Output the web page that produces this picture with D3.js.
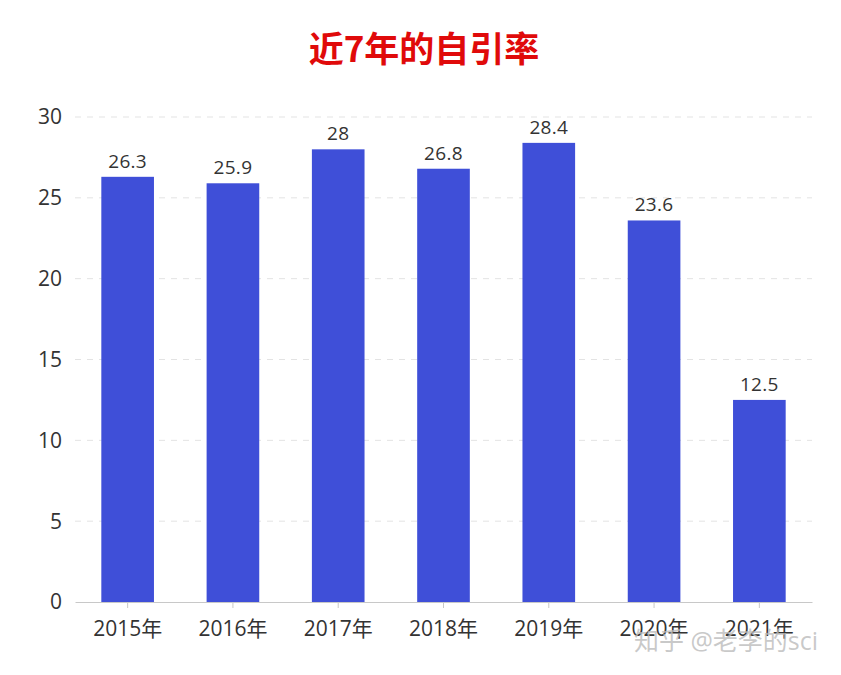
<!DOCTYPE html>
<html>
<head>
<meta charset="utf-8">
<script src="https://cdn.jsdelivr.net/npm/d3@7"></script>
<style>
  body { margin: 0; background: #fff; }
  svg { font-family: "Open Sans", "Noto Sans CJK SC", sans-serif; }
</style>
</head>
<body>
<div id="chart"></div>
<script>
const years = ["2015年", "2016年", "2017年", "2018年", "2019年", "2020年", "2021年"];
const rates = [26.3, 25.9, 28, 26.8, 28.4, 23.6, 12.5];
const yTicks = [0, 5, 10, 15, 20, 25, 30];

const width = 841, height = 675;
const margin = {top: 117, right: 29, bottom: 73, left: 75};

const svg = d3.select("#chart").append("svg")
    .attr("width", width)
    .attr("height", height);

const x = d3.scaleBand()
    .domain(years)
    .range([margin.left, width - margin.right])
    .paddingInner(0.5)
    .paddingOuter(0.25);

const y = d3.scaleLinear()
    .domain([0, 30])
    .range([height - margin.bottom, margin.top]);

// title
svg.append("text")
    .attr("x", 424)
    .attr("y", 62)
    .attr("text-anchor", "middle")
    .attr("fill", "#e00a0a")
    .attr("font-size", 35)
    .attr("font-weight", "bold")
    .attr("font-family", "\"Noto Sans CJK SC\", sans-serif")
    .text("近7年的自引率");

// grid lines
svg.append("g")
    .selectAll("line")
    .data(yTicks.filter(d => d > 0))
    .join("line")
    .attr("x1", margin.left)
    .attr("x2", width - margin.right)
    .attr("y1", d => y(d))
    .attr("y2", d => y(d))
    .attr("stroke", "#e3e3e3")
    .attr("stroke-dasharray", "6,6");

// y labels
svg.append("g")
    .selectAll("text")
    .data(yTicks)
    .join("text")
    .attr("x", 62)
    .attr("y", d => y(d))
    .attr("dy", "0.35em")
    .attr("text-anchor", "end")
    .attr("fill", "#333")
    .attr("font-size", 21)
    .text(d => d);

// bars
svg.append("g")
    .selectAll("rect")
    .data(rates)
    .join("rect")
    .attr("x", (d, i) => x(years[i]))
    .attr("y", d => y(d))
    .attr("width", x.bandwidth())
    .attr("height", d => y(0) - y(d))
    .attr("fill", "#3f4fd8");

// value labels
svg.append("g")
    .selectAll("text")
    .data(rates)
    .join("text")
    .attr("x", (d, i) => x(years[i]) + x.bandwidth() / 2)
    .attr("y", d => y(d) - 9)
    .attr("text-anchor", "middle")
    .attr("fill", "#333")
    .attr("font-size", 19)
    .attr("letter-spacing", 0.3)
    .text(d => d);

// x axis
const xAxis = svg.append("g")
    .attr("transform", `translate(0,${y(0)})`)
    .call(d3.axisBottom(x).tickSize(6).tickSizeOuter(0));
xAxis.select(".domain").attr("stroke", "#c8c8c8");
xAxis.selectAll(".tick line").attr("stroke", "#c8c8c8");
xAxis.selectAll(".tick text")
    .attr("fill", "#333")
    .attr("font-size", 21)
    .attr("font-family", "\"Open Sans\", \"Noto Sans CJK SC\", sans-serif")
    .attr("dy", "1.2em");

// watermark
svg.append("text")
    .attr("x", 818)
    .attr("y", 650)
    .attr("text-anchor", "end")
    .attr("fill", "#bbb")
    .attr("fill-opacity", 0.8)
    .attr("font-size", 25)
    .text("知乎 @老李的sci");
</script>
</body>
</html>
